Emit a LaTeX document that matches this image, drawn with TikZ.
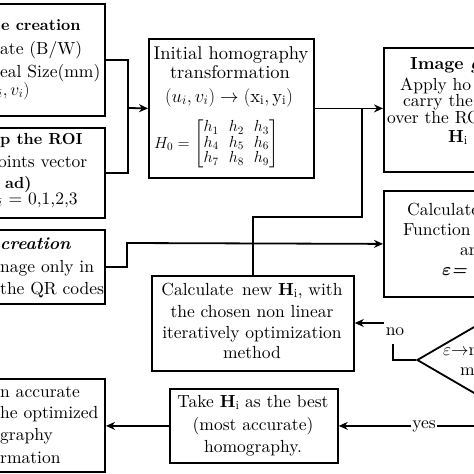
\RequirePackage{fix-cm}
\documentclass[tikz,border=0pt]{standalone}
\usepackage{amsmath,amssymb,bm}
\usepackage{fontspec}
\setmainfont{lmroman10-regular.otf}[BoldFont=lmroman10-bold.otf, ItalicFont=lmroman10-italic.otf, BoldItalicFont=lmroman10-bolditalic.otf]
\usetikzlibrary{arrows.meta,shapes.geometric}
\tikzset{
  box/.style={draw, line width=1.8pt, inner sep=0pt},
  frag/.style={anchor=base west, inner sep=0pt, font=\fontsize{17.5}{21}\selectfont},
  ctext/.style={anchor=base, inner sep=0pt, font=\fontsize{17.5}{21}\selectfont},
  conn/.style={line width=1.8pt},
  arr/.style={conn, -{Stealth[length=9pt,width=8pt]}},
  lbl/.style={fill=white, inner sep=1.5pt, font=\fontsize{17.5}{21}\selectfont},
  ttl/.style={frag, font=\fontsize{16}{19}\selectfont\bfseries},
}
\begin{document}
\begin{tikzpicture}[x=1pt,y=-1pt]
\useasboundingbox (0,0) rectangle (474,474);
\clip (0,0) rectangle (474,474);
\fill[white] (0,0) rectangle (474,474);

% left boxes
\node[box, minimum width=200pt, minimum height=112pt, anchor=north east] (b1) at (106,3) {};
\node[box, minimum width=200pt, minimum height=90pt, anchor=north east] (b2) at (106,127) {};
\node[box, minimum width=200pt, minimum height=74pt, anchor=north east] (b3) at (106,229) {};
\node[box, minimum width=200pt, minimum height=93pt, anchor=north east] (b4) at (106,378) {};

% box 1 text
\node[ttl] (t11) at (1,30) {e creation};
\node[frag] (t12) at (0,54) {ate (B/W)};
\node[frag] (t13) at (0,77) {eal Size(mm)};
\node[frag] (t14) at (-2,95) {$_i,v_i)$};
% box 2 text
\node[ttl] (t21) at (0,144) {p the ROI};
\node[frag] (t22) at (-2,167) {oints vector};
\node[ttl] (t23) at (5,188) {ad)};
\node[frag] (t24) at (-2,204) {$_i$ = 0,1,2,3};
% box 3 text
\node[frag] (t31) at (0,249) {\textbf{\textit{creation}}};
\node[frag] (t32) at (0,272) {nage only in};
\node[frag] (t33) at (0,294) {the QR codes};
% box 4 text
\node[frag] (t41) at (0,397) {n accurate};
\node[frag] (t42) at (0,418) {he optimized};
\node[frag] (t43) at (0,440) {graphy};
\node[frag] (t44) at (0,463) {rmation};

% initial homography box
\node[box, minimum width=165pt, minimum height=139pt, anchor=north west] (init) at (148,38) {};
\node[ctext, font=\fontsize{18.5}{21}\selectfont] (i1) at (231,59) {Initial homography};
\node[ctext, font=\fontsize{18.5}{21}\selectfont] (i2) at (230,78) {transformation};
\node[ctext, font=\fontsize{18.5}{21}\selectfont] (i3) at (229,102) {$(u_i,v_i)\rightarrow(\mathrm{x_i},\mathrm{y_i})$};
\node[anchor=west, inner sep=0pt, font=\fontsize{16}{16}\selectfont] (i4) at (154,144)
  {\renewcommand\arraystretch{0.9}$H_0=\begin{bmatrix}h_1&h_2&h_3\\h_4&h_5&h_6\\h_7&h_8&h_9\end{bmatrix}$};

% image generation box
\node[box, minimum width=200pt, minimum height=124pt, anchor=north west] (img) at (383,47) {};
\node[frag] (g1) at (410,69) {\textbf{Image \textit{g}}};
\node[frag] (g2) at (400,90) {Apply ho};
\node[frag] (g3) at (403,106) {carry the};
\node[frag] (g4) at (387,123) {over the RO};
\node[frag] (g5) at (448,142) {$\mathbf{H}_{\mathrm{i}}$ c};

% calculate error function box
\node[box, minimum width=200pt, minimum height=106pt, anchor=north west] (calc) at (383,190) {};
\node[frag] (c1) at (407,215) {Calculate};
\node[frag] (c2) at (403,235) {Function};
\node[frag] (c3) at (460,255) {ar};
\node[frag] (c4) at (442,275) {$\boldsymbol{\varepsilon}$\textbf{\textit{= }}$\boldsymbol{\eta}$};

% decision diamond
\node[draw, line width=1.8pt, shape=diamond, inner sep=0pt, minimum width=206pt, minimum height=120pt] (dia) at (520,360) {};
\node[frag] (d1) at (443,355) {$\varepsilon{\rightarrow}$m};
\node[frag] (d2) at (460,375) {m};

% calculate new H box
\node[box, minimum width=202pt, minimum height=95pt, anchor=north west] (newH) at (151,275) {};
\node[ctext] (n1) at (252,295) {Calculate\, new $\mathbf{H}_{\mathrm{i}}$, with};
\node[ctext] (n2) at (252,317) {the chosen non linear};
\node[ctext] (n3) at (252,338) {iteratively optimization};
\node[ctext] (n4) at (252,358) {method};

% take H box
\node[box, minimum width=168pt, minimum height=74pt, anchor=north west] (take) at (169,388) {};
\node[ctext] (k1) at (253,407) {Take $\mathbf{H}_{\mathrm{i}}$ as the best};
\node[ctext] (k2) at (253,430) {(most accurate)};
\node[ctext] (k3) at (253,452) {homography.};

% connectors
\coordinate (m1) at (128,108);
\draw[conn] (b1.east) -| (m1);
\draw[conn] (b2.east) -| (m1);
\draw[arr] (m1) -- (init.west);

\draw[arr] (init.east) -- (img.west |- init.east);
\coordinate (jr) at (362,108);
\coordinate (kr) at (362,217);
\draw[conn] (newH.north) |- (kr) -- (jr);

\coordinate (mk) at (127,243);
\draw[arr] (b3.east) -| (mk) -- (calc.west);

\coordinate (nc) at (393,323);
\draw[arr] (dia.west) -| (nc) -- (newH.east |- nc);
\node[lbl, minimum height=24pt, minimum width=22pt] (no) at (395,332) {no};

\draw[arr] (dia.south) |- (take.east) node[lbl, pos=0.765] (yes) {yes};
\draw[arr] (take.west) -- (b4.east |- take.west);
\end{tikzpicture}
\end{document}
